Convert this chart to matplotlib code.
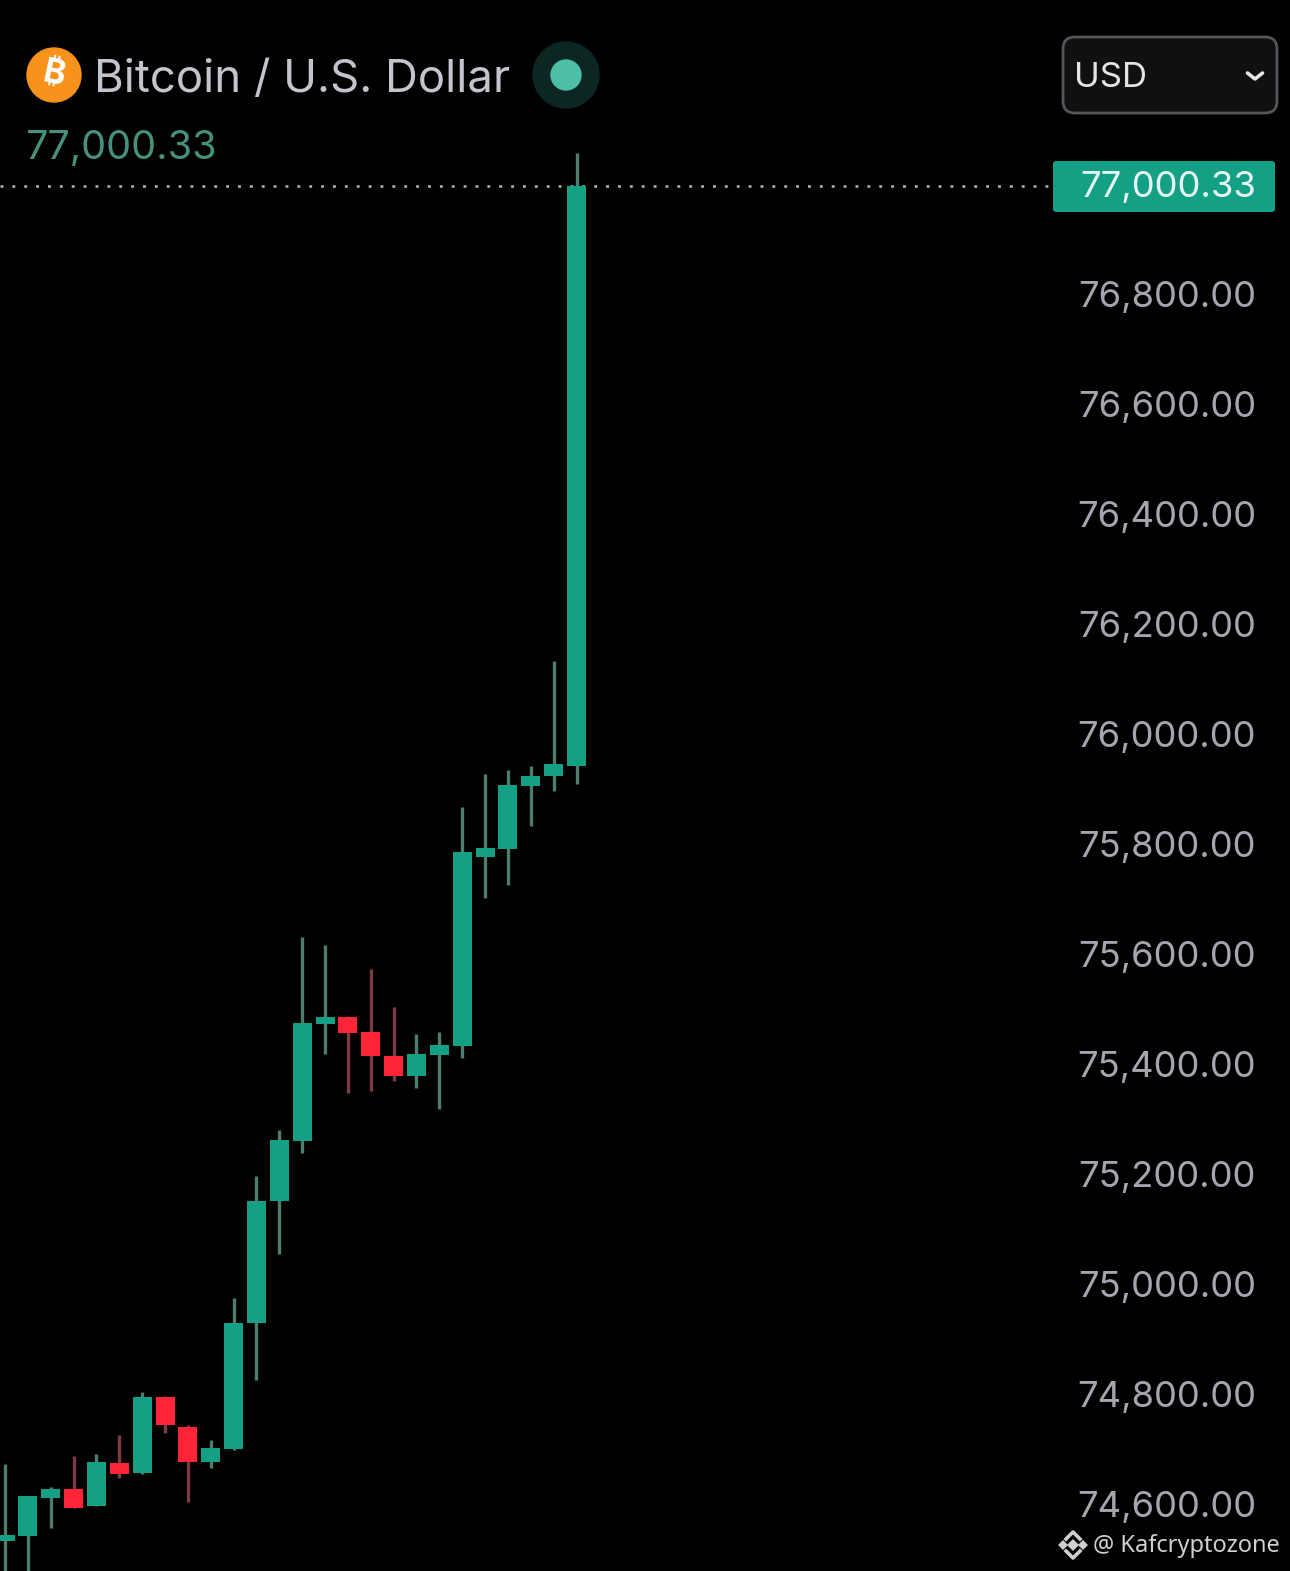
import matplotlib
matplotlib.use("Agg")
from matplotlib import pyplot as plt
from matplotlib.patches import Circle, FancyBboxPatch

plt.rcParams['font.family'] = ['Inter', 'Roboto', 'DejaVu Sans']

# candles, oldest first (first two run off the bottom of the screenshot)
opens = [74536, 74545, 74614, 74631, 74600, 74678, 74660, 74798, 74744, 74680, 74704, 74933, 75155,
         75264, 75476, 75489, 75462, 75418, 75382, 75420, 75436, 75780, 75795, 75909, 75927, 75945]
closes = [74547, 74618, 74631, 74596, 74680, 74658, 74798, 74747, 74680, 74705, 74933, 75155, 75265,
          75478, 75489, 75460, 75418, 75382, 75422, 75438, 75789, 75796, 75911, 75927, 75949, 77000.33]
highs = [74676, 74618, 74635, 74691, 74695, 74729, 74807, 74800, 74747, 74720, 74978, 75200, 75284,
         75635, 75620, 75491, 75576, 75507, 75458, 75462, 75871, 75931, 75938, 75945, 76136, 77060]
lows = [74465, 74465, 74560, 74596, 74600, 74651, 74658, 74733, 74607, 74669, 74702, 74829, 75058,
        75242, 75422, 75351, 75355, 75373, 75360, 75322, 75415, 75705, 75729, 75836, 75900, 75913]
price_ticks = [76800, 76600, 76400, 76200, 76000, 75800, 75600, 75400, 75200, 75000, 74800, 74600]
last_price = 77000.33

BG = '#000000'
UP = '#14a085'
DOWN = '#ff2436'
UP_WICK = '#4f7d6c'
DOWN_WICK = '#803a44'
TICK_COLOR = '#a3a6ad'

W, H = 1290, 1571
fig = plt.figure(figsize=(W / 100, H / 100), dpi=100, facecolor=BG)

# price axis: 0.55 px per dollar, 76,800 sits at y=296
ax = fig.add_axes([0, 0, 1, 1], facecolor=BG)
px_per_usd = 0.55
ax.set_ylim(76800 - (H - 296) / px_per_usd, 76800 + 296 / px_per_usd)
step = 22.86
first_x = 5
ax.set_xlim(-first_x / step, (W - first_x) / step)
ax.axis('off')

for i in range(len(opens)):
    up = closes[i] >= opens[i]
    ax.plot([i, i], [lows[i], highs[i]], color=UP_WICK if up else DOWN_WICK, lw=2.4,
            solid_capstyle='butt', zorder=2)
    ax.bar(i, abs(closes[i] - opens[i]), bottom=min(opens[i], closes[i]), width=19 / step,
           color=UP if up else DOWN, zorder=3)

ax.axhline(last_price, xmin=0, xmax=1050 / W, color='#a4b2ac', lw=1.9,
           dashes=(1.1, 3.4), zorder=1)

# tick labels on the right, right aligned against the same edge
label_x = ax.get_xlim()[0] + 1256 / step
for p in price_ticks:
    ax.annotate(f'{p:,.2f}', (label_x, p), xytext=(0, -1), textcoords='offset points',
                color=TICK_COLOR, fontsize=26.2, ha='right', va='center')

# header and widgets in screen pixels
ui = fig.add_axes([0, 0, 1, 1], facecolor='none')
ui.set_xlim(0, W)
ui.set_ylim(H, 0)
ui.axis('off')

ui.add_patch(Circle((54, 75), 27, color='#f7931a'))
ui.text(54, 75, '\u20bf', color='white', fontsize=24, fontweight='bold', rotation=-12,
        ha='center', va='center', family=['Inter', 'Noto Sans', 'Open Sans', 'Lato', 'Roboto'])
ui.text(94, 75, 'Bitcoin / U.S. Dollar', color='#c3c5cd', fontsize=32.8, ha='left', va='center_baseline')
ui.add_patch(Circle((566, 75), 33, color='#0c2624'))
ui.add_patch(Circle((566, 75), 15, color='#4cbfa6'))
ui.text(25, 144, f'{last_price:,.2f}', color='#46917e', fontsize=28.5, ha='left', va='center_baseline')

ui.add_patch(FancyBboxPatch((1063, 37), 214, 76, boxstyle='round,pad=0,rounding_size=12',
                            facecolor='#101012', edgecolor='#56565a', lw=2))
ui.text(1074, 74, 'USD', color='#e4e4e6', fontsize=25, ha='left', va='center_baseline')
ui.plot([1247.5, 1255, 1262.5], [73, 79, 73], color='#e4e4e6', lw=2.6, solid_capstyle='round')

ui.add_patch(FancyBboxPatch((1053, 161), 222, 51, boxstyle='round,pad=0,rounding_size=3',
                            facecolor=UP, edgecolor='none'))
ui.text(1256, 187, '77,000.33', color='#e6f7f3', fontsize=26.2, ha='right', va='center')

# watermark, Binance mark is drawn from small shapes
mark = '#cfcfd2'
ui.plot([1066, 1073, 1080], [1539, 1532, 1539], color=mark, lw=2.6)
ui.plot([1066, 1073, 1080], [1551, 1558, 1551], color=mark, lw=2.6)
for lx, size in [(1063, 5), (1073, 6), (1083, 5)]:
    ui.plot(lx, 1545, marker='D', ms=size, color=mark, mew=0)
ui.text(1093, 1546, '@ Kafcryptozone', color=mark, fontsize=17, ha='left', va='center',
        family=['Noto Sans', 'DejaVu Sans'])

fig.savefig('out.png', dpi=100, facecolor=BG)
